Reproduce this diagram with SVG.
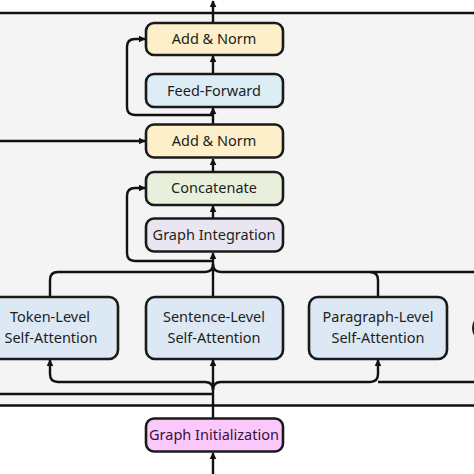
<svg xmlns="http://www.w3.org/2000/svg" width="474" height="474" viewBox="0 0 474 474">
<defs>
<marker id="ah" viewBox="0 0 10 10" refX="9" refY="5" markerWidth="7" markerHeight="7" markerUnits="userSpaceOnUse" orient="auto">
<path d="M0,0 L10,5 L0,10 z" fill="#111"/>
</marker>
<style>
.box{stroke:#1a1a1a;stroke-width:2.6}
.t{font-family:"Noto Sans","Open Sans","DejaVu Sans",sans-serif;font-size:14.5px;fill:#1e1e1e;text-anchor:middle}
.c{fill:none;stroke:#111;stroke-width:2.4}
.a{marker-end:url(#ah)}
</style>
</defs>
<rect width="474" height="474" fill="#ffffff"/>
<rect x="0" y="13" width="474" height="392" fill="#f4f4f4"/>
<g id="panel-border" class="c">
<path d="M0,13 H474"/>
<path d="M0,405.5 H474"/>
</g>
<g id="connectors">
<path class="c a" d="M213,23 V1"/>
<path class="c a" d="M213,73 V56"/>
<path class="c a" d="M213,124 V108"/>
<path class="c a" d="M213,115 H135 Q127,115 127,107 V47 Q127,39 135,39 H145"/>
<path class="c a" d="M0,141 H145"/>
<path class="c a" d="M213,172 V159"/>
<path class="c a" d="M213,218 V206"/>
<path class="c a" d="M213,261 H135 Q127,261 127,253 V196 Q127,188 135,188 H145"/>
<path class="c a" d="M213,297 V253"/>
<path class="c" d="M50,297 V280 Q50,272 58,272 H205 Q213,272 213,264"/>
<path class="c" d="M474,272 H221 Q213,272 213,264"/>
<path class="c" d="M378,297 V280 Q378,272 370,272"/>
<path class="c a" d="M213,418 V360"/>
<path class="c a" d="M213,390 Q213,382 205,382 H58 Q50,382 50,374 V360"/>
<path class="c a" d="M213,390 Q213,382 221,382 H370 Q378,382 378,374 V360"/>
<path class="c" d="M378,382 H474"/>
<path class="c" d="M213,394 H0"/>
<path class="c a" d="M213,474 V453"/>
</g>
<g id="add-norm-top">
<rect class="box" x="146" y="23" width="137" height="32" rx="8" fill="#fcefc9"/>
<text class="t" x="214" y="44">Add &amp; Norm</text>
</g>
<g id="feed-forward">
<rect class="box" x="146" y="74" width="137" height="33" rx="8" fill="#ddedf5"/>
<text class="t" x="214" y="95.5">Feed-Forward</text>
</g>
<g id="add-norm-mid">
<rect class="box" x="146" y="124.5" width="137" height="33" rx="8" fill="#fcefc9"/>
<text class="t" x="214" y="146">Add &amp; Norm</text>
</g>
<g id="concatenate">
<rect class="box" x="146" y="172" width="137" height="33" rx="8" fill="#e8f0dc"/>
<text class="t" x="214" y="193">Concatenate</text>
</g>
<g id="graph-integration">
<rect class="box" x="146" y="218.5" width="137" height="33" rx="8" fill="#e9e6f1"/>
<text class="t" x="214" y="240">Graph Integration</text>
</g>
<g id="token-level">
<rect class="box" x="-18" y="297" width="136" height="62" rx="9" fill="#dce8f4"/>
<text class="t" x="50" y="322">Token-Level</text>
<text class="t" x="51" y="343">Self-Attention</text>
</g>
<g id="sentence-level">
<rect class="box" x="146" y="297" width="137" height="62" rx="9" fill="#dce8f4"/>
<text class="t" x="214" y="322">Sentence-Level</text>
<text class="t" x="214" y="343">Self-Attention</text>
</g>
<g id="paragraph-level">
<rect class="box" x="309" y="297" width="138" height="62" rx="9" fill="#dce8f4"/>
<text class="t" x="378" y="322">Paragraph-Level</text>
<text class="t" x="378" y="343">Self-Attention</text>
</g>
<g id="right-partial">
<path d="M476,320 Q471,328 476,336" fill="none" stroke="#222" stroke-width="3"/>
</g>
<g id="graph-initialization">
<rect class="box" x="146" y="418.5" width="137" height="33" rx="8" fill="#fbc8fb"/>
<text class="t" x="214" y="440" style="fill:#3a1040">Graph Initialization</text>
</g>
</svg>
